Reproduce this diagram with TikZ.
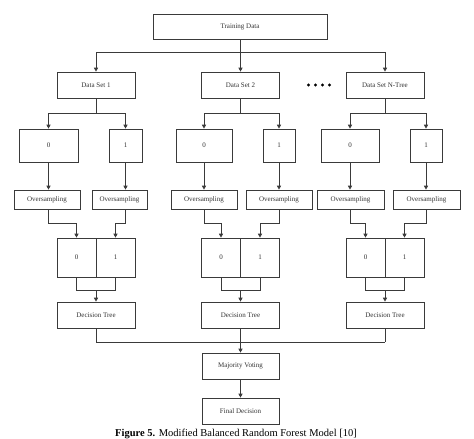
\documentclass[tikz,border=0pt]{standalone}
\usepackage{fontspec}
\setmainfont{Liberation Serif}
\usetikzlibrary{arrows.meta}
\definecolor{ln}{HTML}{3A3A3A}
\definecolor{tx}{HTML}{333333}
\begin{document}
\begin{tikzpicture}[x=1pt,y=-1pt,
  box/.style={draw=ln,line width=0.8pt,inner sep=0pt,text=tx,font=\fontsize{7}{8}\selectfont,fill=white},
  ln/.style={draw=ln,line width=0.8pt},
  arr/.style={ln,-{Triangle[length=4pt,width=4.2pt]}}]
\useasboundingbox (0,0) rectangle (474,439);
\clip (0,0) rectangle (474,439);
\fill[white] (0,0) rectangle (474,439);

\node[box,minimum width=174pt,minimum height=25pt] (td) at (240,26.5) {Training Data};

\foreach \c/\cx/\zc/\zw/\oc/\ow/\pc/\pw/\qc/\qw/\lab in {
  1/96/48.5/59/125.5/33/47/66/119.5/55/{Data Set 1},
  2/240.5/204/56/279/32/204/66/279/66/{Data Set 2},
  3/385/350/58/426/32/350.5/67/426.5/67/{Data Set N-Tree}}{
  \node[box,minimum width=78pt,minimum height=26pt] (ds\c) at (\cx,85) {\lab};
  \node[box,minimum width=\zw pt,minimum height=33pt] (z\c) at (\zc,145.5) {0};
  \node[box,minimum width=\ow pt,minimum height=33pt] (o\c) at (\oc,145.5) {1};
  \node[box,minimum width=\pw pt,minimum height=19pt] (pz\c) at (\pc,199.5) {Oversampling};
  \node[box,minimum width=\qw pt,minimum height=19pt] (po\c) at (\qc,199.5) {Oversampling};
  \node[box,minimum width=39pt,minimum height=39pt] (cl\c) at (\cx-19.5,257.5) {0};
  \node[box,minimum width=39pt,minimum height=39pt] (cr\c) at (\cx+19.5,257.5) {1};
  \node[box,minimum width=78pt,minimum height=26pt] (dt\c) at (\cx,315) {Decision Tree};
  % split
  \draw[ln] (ds\c.south) -- ++(0,15) coordinate (sp\c);
  \draw[arr] (sp\c -| z\c.north) -- (z\c.north);
  \draw[arr] (sp\c -| o\c.north) -- (o\c.north);
  \draw[ln] (sp\c -| z\c.north) -- (sp\c -| o\c.north);
  % to oversampling
  \draw[arr] (z\c.south) -- (z\c.south |- pz\c.north);
  \draw[arr] (o\c.south) -- (o\c.south |- po\c.north);
  % to combined
  \draw[arr] (z\c.south |- pz\c.south) -- ++(0,14) -| (cl\c.north);
  \draw[arr] (o\c.south |- po\c.south) -- ++(0,14) -| (cr\c.north);
  % combined to decision tree
  \draw[ln] (cl\c.south) -- ++(0,13) -| (cr\c.south);
  \draw[arr] (dt\c.north |- cl\c.south) ++(0,13) -- (dt\c.north);
  \draw[ln] (dt\c.south) -- ++(0,14);
}
% training data to data sets
\draw[ln] (td.south) -- (240,52);
\draw[ln] (ds1.north |- 0,52) -- (ds3.north |- 0,52);
\draw[arr] (ds1.north |- 0,52) -- (ds1.north);
\draw[arr] (ds2.north |- 0,52) -- (ds2.north);
\draw[arr] (ds3.north |- 0,52) -- (ds3.north);
% dots
\foreach \x in {308.5,315.5,322.5,329.5} \fill[black] (\x,85) circle (1.6pt);

\node[box,minimum width=77pt,minimum height=26pt] (mv) at (240.5,366) {Majority Voting};
\node[box,minimum width=77pt,minimum height=26pt] (fd) at (240.5,411) {Final Decision};
\draw[ln] (dt1.south |- 0,342) -- (dt3.south |- 0,342);
\draw[arr] (mv.north |- 0,342) -- (mv.north);
\draw[arr] (mv.south) -- (fd.north);

\node[anchor=base,text=black,font=\fontsize{10.5}{12}\selectfont,inner sep=0pt] (cap) at (236,436) {\textbf{Figure 5.} Modified Balanced Random Forest Model [10]};
\end{tikzpicture}
\end{document}
